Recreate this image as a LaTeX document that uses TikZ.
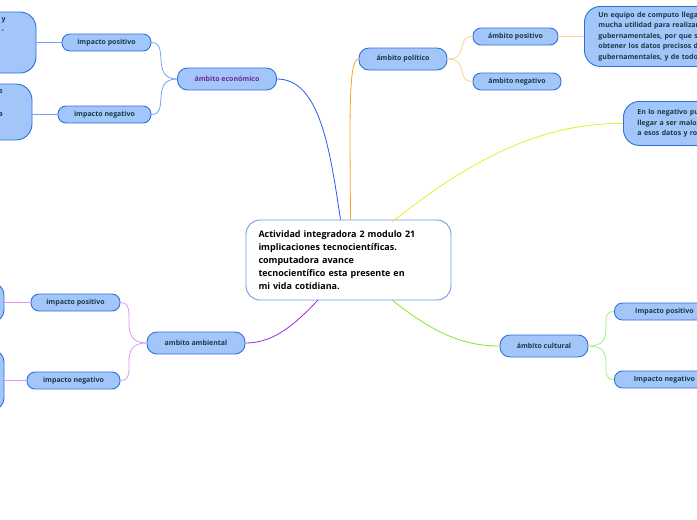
\documentclass[tikz,border=0pt]{standalone}
\usepackage{fontspec}
\setmainfont{Open Sans}
\begin{document}
\begin{tikzpicture}[x=1pt,y=-1pt,
 sub/.style={draw=bordc,fill=fillc,rounded corners=8pt,line width=0.9pt,font=\bfseries\fontsize{7}{9}\selectfont,text=txtc,minimum height=17pt,inner xsep=6pt},
 main/.style={sub,minimum height=22pt,inner xsep=8pt,rounded corners=10pt},
 big/.style={sub,align=left,rounded corners=16pt,inner xsep=14pt,inner ysep=5pt,font=\bfseries\fontsize{7}{10.5}\selectfont},
 ln/.style={line width=0.8pt}]
\definecolor{bordc}{HTML}{2F6FD6}
\definecolor{fillc}{HTML}{A3C6FA}
\definecolor{txtc}{HTML}{173A45}
\path[use as bounding box] (0,0) rectangle (697,520);
\clip (0,0) rectangle (697,520);
\node[draw=bordc!70,fill=white,rounded corners=14pt,line width=0.9pt,align=left,text width=180pt,minimum height=80pt,minimum width=205pt,font=\bfseries\fontsize{9}{13}\selectfont,text=black] (c) at (348.5,260) {Actividad integradora 2 modulo 21\\implicaciones tecnocientíficas.\\computadora avance\\tecnocientífico esta presente en\\mi vida cotidiana.};
\node[main,minimum width=99pt,text={rgb,255:red,110;green,40;blue,140}] (eco) at (227,79) {ámbito económico};
\node[sub,minimum width=89pt] (ep) at (106.5,42.5) {impacto positivo};
\node[sub,minimum width=93pt] (en) at (104.5,114.5) {impacto negativo};
\node[sub,minimum width=56pt,minimum height=61pt,rounded corners=16pt] (eb1) at (8,42.5) {};
\node[sub,minimum width=52pt,minimum height=56pt,rounded corners=16pt] (eb2) at (6,112) {};
\node[main,minimum width=88pt] (pol) at (403,59) {ámbito político};
\node[sub,minimum width=85pt] (pp) at (515.5,36.5) {ámbito positivo};
\node[sub,minimum width=88pt] (pn) at (517,81.5) {ámbito negativo};
\node[big,anchor=north west,minimum height=60pt,text width=200pt] (pb) at (584,6) {Un equipo de computo llega a ser de\\mucha utilidad para realizar trámites\\gubernamentales, por que se pueden\\obtener los datos precisos de los trámites\\gubernamentales, y de todo tipo};
\node[big,anchor=north west,minimum height=44pt,text width=160pt] (nb) at (623,101) {En lo negativo puede\\llegar a ser malo el acceso\\a esos datos y robarlos};
\node[main,minimum width=88pt] (cul) at (544,346) {ámbito cultural};
\node[sub,anchor=west,minimum width=100pt] (cp) at (614,311.5) {Impacto positivo};
\node[sub,anchor=west,minimum width=100pt] (cn) at (614,379.5) {Impacto negativo};
\node[main,minimum width=98pt] (amb) at (196,343) {ambito ambiental};
\node[sub,minimum width=89pt] (ap) at (75.5,302.5) {impacto positivo};
\node[sub,minimum width=93pt] (an) at (73.5,380.5) {impacto negativo};
\node[sub,minimum width=24pt,minimum height=39pt,rounded corners=12pt] (ab1) at (-8,302.5) {};
\node[sub,minimum width=24pt,minimum height=60pt,rounded corners=12pt] (ab2) at (-8,380) {};
\node[font=\bfseries\fontsize{7}{9}\selectfont,text=txtc,anchor=west] (t1) at (-2,20) {y};
\node[font=\bfseries\fontsize{7}{9}\selectfont,text=txtc,anchor=west] (t2) at (-2,31) {-};
\node[font=\bfseries\fontsize{7}{9}\selectfont,text=txtc,anchor=west] (t3) at (-5,92) {e};
\node[font=\bfseries\fontsize{7}{9}\selectfont,text=txtc,anchor=west] (t4) at (-5,115) {a};
\draw[ln,draw={rgb,255:red,40;green,90;blue,230}] (c.north) ++(-8,0) .. controls (330,150) and (320,79) .. (eco.east);
\draw[ln,draw={rgb,255:red,250;green,160;blue,40}] (c.north) ++(2,0) .. controls (350,120) and (348,59) .. (pol.west);
\draw[ln,draw={rgb,255:red,225;green,240;blue,40}] (392,222) .. controls (470,160) and (540,123) .. (nb.west);
\draw[ln,draw={rgb,255:red,120;green,235;blue,40}] (392,300) .. controls (430,330) and (460,346) .. (cul.west);
\draw[ln,draw={rgb,255:red,160;green,40;blue,230}] (318,300) .. controls (290,330) and (270,343) .. (amb.east);
\begin{scope}[ln,draw={rgb,255:red,120;green,160;blue,250}]
\draw (eco.west) .. controls (150,79) and (170,42.5) .. (ep.east);
\draw (eco.west) .. controls (150,79) and (170,114.5) .. (en.east);
\draw (ep.west) -- (eb1.east |- ep.west);
\draw (en.west) -- (eb2.east |- en.west);
\end{scope}
\begin{scope}[ln,draw={rgb,255:red,252;green,210;blue,140}]
\draw (pol.east) .. controls (470,59) and (455,36.5) .. (pp.west);
\draw (pol.east) .. controls (470,59) and (455,81.5) .. (pn.west);
\draw (pp.east) -- (pb.west |- pp.east);
\end{scope}
\begin{scope}[ln,draw={rgb,255:red,160;green,240;blue,130}]
\draw (cul.east) .. controls (620,346) and (595,311.5) .. (cp.west);
\draw (cul.east) .. controls (620,346) and (595,379.5) .. (cn.west);
\end{scope}
\begin{scope}[ln,draw={rgb,255:red,220;green,150;blue,250}]
\draw (amb.west) .. controls (115,343) and (140,302.5) .. (ap.east);
\draw (amb.west) .. controls (115,343) and (140,380.5) .. (an.east);
\draw (ap.west) -- (ab1.east |- ap.west);
\draw (an.west) -- (ab2.east |- an.west);
\end{scope}
\end{tikzpicture}
\end{document}
